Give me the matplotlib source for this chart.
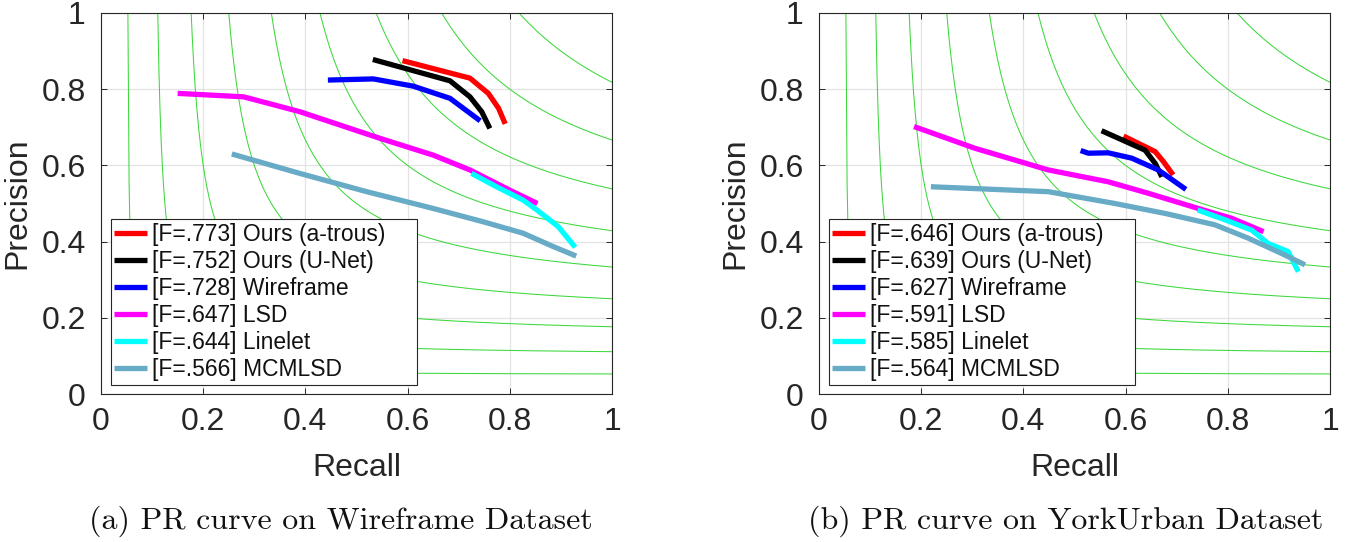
import numpy as np
import matplotlib
matplotlib.use("Agg")
import matplotlib.pyplot as plt

# ---------------- data ----------------
labels_a = ["[F=.773] Ours (a-trous)", "[F=.752] Ours (U-Net)", "[F=.728] Wireframe",
            "[F=.647] LSD", "[F=.644] Linelet", "[F=.566] MCMLSD"]
labels_b = ["[F=.646] Ours (a-trous)", "[F=.639] Ours (U-Net)", "[F=.627] Wireframe",
            "[F=.591] LSD", "[F=.585] Linelet", "[F=.564] MCMLSD"]
colors = ["#ff0000", "#000000", "#0000ff", "#ff00ff", "#00ffff", "#68abc6"]

# Wireframe dataset (a)
a_atrous_r = [0.590, 0.722, 0.758, 0.778, 0.791]
a_atrous_p = [0.875, 0.829, 0.789, 0.750, 0.709]
a_unet_r = [0.532, 0.683, 0.722, 0.745, 0.761]
a_unet_p = [0.878, 0.822, 0.780, 0.741, 0.697]
a_wire_r = [0.444, 0.533, 0.611, 0.683, 0.742]
a_wire_p = [0.824, 0.827, 0.808, 0.776, 0.717]
a_lsd_r = [0.150, 0.279, 0.389, 0.546, 0.650, 0.722, 0.800, 0.854]
a_lsd_p = [0.789, 0.780, 0.741, 0.671, 0.627, 0.588, 0.535, 0.500]
a_linelet_r = [0.725, 0.774, 0.826, 0.853, 0.895, 0.928]
a_linelet_p = [0.579, 0.544, 0.509, 0.483, 0.439, 0.385]
a_mcmlsd_r = [0.256, 0.389, 0.520, 0.650, 0.748, 0.826, 0.885, 0.930]
a_mcmlsd_p = [0.630, 0.579, 0.531, 0.487, 0.452, 0.422, 0.387, 0.362]

# YorkUrban dataset (b)
b_atrous_r = [0.596, 0.658, 0.674, 0.693]
b_atrous_p = [0.677, 0.636, 0.610, 0.575]
b_unet_r = [0.553, 0.638, 0.658, 0.671]
b_unet_p = [0.691, 0.640, 0.605, 0.570]
b_wire_r = [0.512, 0.527, 0.566, 0.612, 0.664, 0.718]
b_wire_p = [0.639, 0.632, 0.633, 0.619, 0.588, 0.537]
b_lsd_r = [0.186, 0.305, 0.449, 0.566, 0.644, 0.742, 0.808, 0.870]
b_lsd_p = [0.702, 0.645, 0.588, 0.557, 0.527, 0.487, 0.461, 0.426]
b_linelet_r = [0.741, 0.795, 0.847, 0.879, 0.918, 0.938]
b_linelet_p = [0.483, 0.457, 0.430, 0.395, 0.374, 0.321]
b_mcmlsd_r = [0.219, 0.449, 0.579, 0.677, 0.775, 0.840, 0.905, 0.951]
b_mcmlsd_p = [0.544, 0.531, 0.500, 0.474, 0.444, 0.409, 0.369, 0.339]

f_levels = [0.1, 0.2, 0.3, 0.4, 0.5, 0.6, 0.7, 0.8, 0.9]
ticks = [0, 0.2, 0.4, 0.6, 0.8, 1]
tick_labels = ["0", "0.2", "0.4", "0.6", "0.8", "1"]

curves_a = [(a_atrous_r, a_atrous_p), (a_unet_r, a_unet_p), (a_wire_r, a_wire_p),
            (a_lsd_r, a_lsd_p), (a_linelet_r, a_linelet_p), (a_mcmlsd_r, a_mcmlsd_p)]
curves_b = [(b_atrous_r, b_atrous_p), (b_unet_r, b_unet_p), (b_wire_r, b_wire_p),
            (b_lsd_r, b_lsd_p), (b_linelet_r, b_linelet_p), (b_mcmlsd_r, b_mcmlsd_p)]

# ---------------- plotting ----------------
plt.rcParams['font.family'] = ['Liberation Sans', 'DejaVu Sans']
txt_col = "#262626"

fig = plt.figure(figsize=(13.47, 5.42), dpi=100)
W, H = 1347.0, 542.0
axes_px = [(101, 13, 511, 381), (819, 13, 511, 381)]


def draw(ax, curves, labels):
    ax.set_xlim(0, 1)
    ax.set_ylim(0, 1)
    ax.grid(True, color="#e3e3e3", linewidth=0.9)
    ax.set_axisbelow(True)
    # iso-F guide curves
    for f in f_levels:
        r = np.linspace(f / (2 - f), 1, 400)
        p = f * r / (2 * r - f)
        ax.plot(r, p, color="#3cd83c", linewidth=0.75, zorder=1.5)
    handles = []
    for (r, p), c, lab in zip(curves, colors, labels):
        h, = ax.plot(r, p, color=c, linewidth=3.8, solid_capstyle="butt", label=lab, zorder=3)
        handles.append(h)
    ax.set_xticks(ticks)
    ax.set_xticklabels(tick_labels)
    ax.set_yticks(ticks)
    ax.set_yticklabels(tick_labels)
    ax.tick_params(direction="in", length=4, width=0.7, top=True, right=True,
                   labelsize=23, colors=txt_col, pad=9)
    ax.tick_params(axis="y", pad=11)
    for s in ax.spines.values():
        s.set_color(txt_col)
        s.set_linewidth(0.8)
    ax.set_xlabel("Recall", fontsize=23, color=txt_col)
    ax.set_ylabel("Precision", fontsize=23, color=txt_col)
    ax.xaxis.set_label_coords(0.5, -0.155)
    ax.yaxis.set_label_coords(-0.135, 0.5)
    leg = ax.legend(handles=handles, loc="lower left",
                    bbox_to_anchor=(0.019, 0.024, 0.60, 0.44), mode="expand",
                    borderaxespad=0, fontsize=16.5, handlelength=1.45,
                    handletextpad=0.2, labelspacing=0.18, borderpad=0.15,
                    fancybox=False, framealpha=1, edgecolor="#262626")
    leg.get_frame().set_linewidth(0.8)
    for t in leg.get_texts():
        t.set_color("#111111")


for (x, y, w, h), curves, labels in zip(axes_px, [curves_a, curves_b], [labels_a, labels_b]):
    ax = fig.add_axes([x / W, (H - y - h) / H, w / W, h / H])
    draw(ax, curves, labels)

fig.text(341 / W, 0.038, "(a) PR curve on Wireframe Dataset", family="cmr10",
         fontsize=23, ha="center", va="center", color="#111111")
fig.text(1066 / W, 0.038, "(b) PR curve on YorkUrban Dataset", family="cmr10",
         fontsize=23, ha="center", va="center", color="#111111")

fig.savefig("out.png", dpi=100)
